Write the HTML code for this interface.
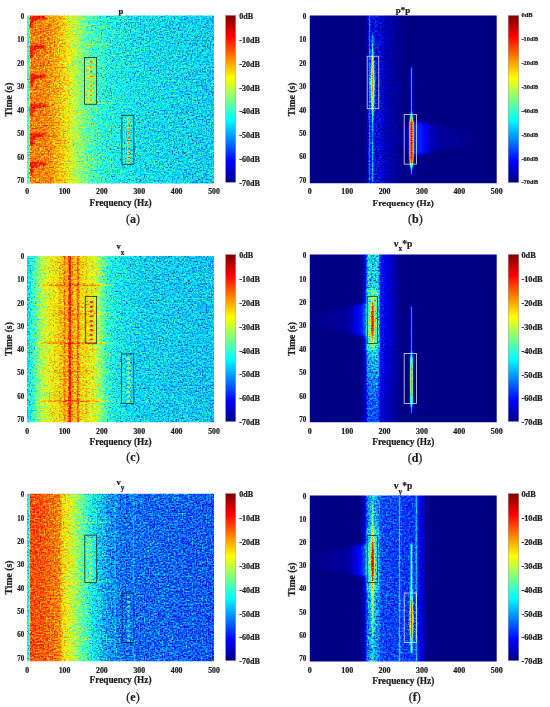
<!DOCTYPE html><html><head><meta charset="utf-8"><title>Spectrograms</title><style>html,body{margin:0;padding:0;background:#fff}svg{display:block}text{font-family:"Liberation Serif","DejaVu Serif",serif;fill:#1c1c1c;stroke:#1c1c1c;stroke-width:0.22px}</style></head><body><svg width="550" height="707" viewBox="0 0 550 707"><rect width="550" height="707" fill="#fff"/><defs><linearGradient id="jetbar" x1="0" y1="0" x2="0" y2="1"><stop offset="0" stop-color="#800000"/><stop offset="0.125" stop-color="#ff0000"/><stop offset="0.375" stop-color="#ffff00"/><stop offset="0.625" stop-color="#00ffff"/><stop offset="0.875" stop-color="#0000ff"/><stop offset="1" stop-color="#000085"/></linearGradient><clipPath id="cpa"><rect x="27.1" y="15.6" width="186.9" height="168.0"/></clipPath><filter id="fa" filterUnits="userSpaceOnUse" x="24.10" y="12.60" width="192.90" height="174.00" color-interpolation-filters="sRGB"><feTurbulence type="fractalNoise" baseFrequency="0.79 0.67" numOctaves="3" seed="2" result="n"/><feColorMatrix in="n" type="matrix" values="1 0 0 0 0  1 0 0 0 0  1 0 0 0 0  0 0 0 0 1" result="n1"/><feConvolveMatrix in="n1" order="3 1" kernelMatrix="0.0295 0.9410 0.0295" divisor="1" edgeMode="duplicate" result="n1x"/><feConvolveMatrix in="n1x" order="1 3" kernelMatrix="0.0295 0.9410 0.0295" divisor="1" edgeMode="duplicate" result="n1"/><feComponentTransfer in="n1" result="n1"><feFuncR type="gamma" exponent="0.9"/><feFuncG type="gamma" exponent="0.9"/><feFuncB type="gamma" exponent="0.9"/></feComponentTransfer><feComposite in="SourceGraphic" in2="n1" operator="arithmetic" k1="-0.3200" k2="1.1715" k3="0.8" k4="-0.4287" result="c"/><feComponentTransfer in="c" result="j"><feFuncR type="table" tableValues="0 0 0 0 0.5 1 1 1 0.5"/><feFuncG type="table" tableValues="0 0 0.5 1 1 1 0.5 0 0"/><feFuncB type="table" tableValues="0.52 1 1 1 0.5 0 0 0 0"/></feComponentTransfer><feConvolveMatrix in="j" order="5 1" kernelMatrix="0.0000 0.0526 0.8948 0.0526 0.0000" divisor="1" edgeMode="duplicate" result="ox"/><feConvolveMatrix in="ox" order="1 5" kernelMatrix="0.0000 0.0526 0.8948 0.0526 0.0000" divisor="1" edgeMode="duplicate" result="o"/></filter><linearGradient id="ga" gradientUnits="userSpaceOnUse" x1="24.10" y1="0" x2="217.00" y2="0"><stop offset="-0.0038" stop-color="#6a6a6a"/><stop offset="0.0262" stop-color="#6a6a6a"/><stop offset="0.0291" stop-color="#bfbfbf"/><stop offset="0.1028" stop-color="#bfbfbf"/><stop offset="0.1318" stop-color="#bcbcbc"/><stop offset="0.1803" stop-color="#b1b1b1"/><stop offset="0.2093" stop-color="#a8a8a8"/><stop offset="0.2384" stop-color="#9b9b9b"/><stop offset="0.2772" stop-color="#8a8a8a"/><stop offset="0.3159" stop-color="#7c7c7c"/><stop offset="0.3644" stop-color="#6f6f6f"/><stop offset="0.4419" stop-color="#646464"/><stop offset="0.5969" stop-color="#5c5c5c"/><stop offset="1.0038" stop-color="#555555"/></linearGradient><filter id="bla" filterUnits="userSpaceOnUse" x="24.10" y="12.60" width="192.90" height="174.00"><feConvolveMatrix in="SourceGraphic" order="7 1" kernelMatrix="0.0017 0.0375 0.2391 0.4433 0.2391 0.0375 0.0017" divisor="1" edgeMode="duplicate" result="ox"/><feConvolveMatrix in="ox" order="1 7" kernelMatrix="0.0004 0.0219 0.2283 0.4987 0.2283 0.0219 0.0004" divisor="1" edgeMode="duplicate" result="o"/></filter><clipPath id="cpc"><rect x="27.1" y="255.9" width="186.9" height="166.4"/></clipPath><filter id="fc" filterUnits="userSpaceOnUse" x="24.10" y="252.90" width="192.90" height="172.40" color-interpolation-filters="sRGB"><feTurbulence type="fractalNoise" baseFrequency="0.79 0.67" numOctaves="3" seed="7" result="n"/><feColorMatrix in="n" type="matrix" values="1 0 0 0 0  1 0 0 0 0  1 0 0 0 0  0 0 0 0 1" result="n1"/><feConvolveMatrix in="n1" order="3 1" kernelMatrix="0.0295 0.9410 0.0295" divisor="1" edgeMode="duplicate" result="n1x"/><feConvolveMatrix in="n1x" order="1 3" kernelMatrix="0.0295 0.9410 0.0295" divisor="1" edgeMode="duplicate" result="n1"/><feComponentTransfer in="n1" result="n1"><feFuncR type="gamma" exponent="0.9"/><feFuncG type="gamma" exponent="0.9"/><feFuncB type="gamma" exponent="0.9"/></feComponentTransfer><feComposite in="SourceGraphic" in2="n1" operator="arithmetic" k1="-0.3200" k2="1.1715" k3="0.8" k4="-0.4287" result="c"/><feComponentTransfer in="c" result="j"><feFuncR type="table" tableValues="0 0 0 0 0.5 1 1 1 0.5"/><feFuncG type="table" tableValues="0 0 0.5 1 1 1 0.5 0 0"/><feFuncB type="table" tableValues="0.52 1 1 1 0.5 0 0 0 0"/></feComponentTransfer><feConvolveMatrix in="j" order="5 1" kernelMatrix="0.0000 0.0526 0.8948 0.0526 0.0000" divisor="1" edgeMode="duplicate" result="ox"/><feConvolveMatrix in="ox" order="1 5" kernelMatrix="0.0000 0.0526 0.8948 0.0526 0.0000" divisor="1" edgeMode="duplicate" result="o"/></filter><linearGradient id="gc" gradientUnits="userSpaceOnUse" x1="24.10" y1="0" x2="217.00" y2="0"><stop offset="-0.0038" stop-color="#4c4c4c"/><stop offset="0.0156" stop-color="#4c4c4c"/><stop offset="0.0214" stop-color="#5d5d5d"/><stop offset="0.0446" stop-color="#6a6a6a"/><stop offset="0.0640" stop-color="#787878"/><stop offset="0.0834" stop-color="#898989"/><stop offset="0.1318" stop-color="#9d9d9d"/><stop offset="0.1803" stop-color="#a8a8a8"/><stop offset="0.2093" stop-color="#adadad"/><stop offset="0.2578" stop-color="#afafaf"/><stop offset="0.2965" stop-color="#a8a8a8"/><stop offset="0.3256" stop-color="#9e9e9e"/><stop offset="0.3682" stop-color="#979797"/><stop offset="0.3954" stop-color="#838383"/><stop offset="0.4302" stop-color="#6b6b6b"/><stop offset="0.4806" stop-color="#5f5f5f"/><stop offset="0.5969" stop-color="#575757"/><stop offset="1.0038" stop-color="#525252"/></linearGradient><filter id="blc" filterUnits="userSpaceOnUse" x="24.10" y="252.90" width="192.90" height="172.40"><feConvolveMatrix in="SourceGraphic" order="5 1" kernelMatrix="0.0003 0.1065 0.7866 0.1065 0.0003" divisor="1" edgeMode="duplicate" result="o"/></filter><linearGradient id="hsc" gradientUnits="userSpaceOnUse" x1="32.71" y1="0" x2="116.81" y2="0"><stop offset="0.0000" stop-color="#fff" stop-opacity="0"/><stop offset="0.1111" stop-color="#fff" stop-opacity="1"/><stop offset="0.8222" stop-color="#fff" stop-opacity="1"/><stop offset="1.0000" stop-color="#fff" stop-opacity="0"/></linearGradient><clipPath id="cpe"><rect x="27.1" y="493.8" width="186.9" height="167.4"/></clipPath><filter id="fe" filterUnits="userSpaceOnUse" x="24.10" y="490.80" width="192.90" height="173.40" color-interpolation-filters="sRGB"><feTurbulence type="fractalNoise" baseFrequency="0.79 0.67" numOctaves="3" seed="11" result="n"/><feColorMatrix in="n" type="matrix" values="1 0 0 0 0  1 0 0 0 0  1 0 0 0 0  0 0 0 0 1" result="n1"/><feConvolveMatrix in="n1" order="3 1" kernelMatrix="0.0295 0.9410 0.0295" divisor="1" edgeMode="duplicate" result="n1x"/><feConvolveMatrix in="n1x" order="1 3" kernelMatrix="0.0295 0.9410 0.0295" divisor="1" edgeMode="duplicate" result="n1"/><feComponentTransfer in="n1" result="n1"><feFuncR type="gamma" exponent="0.9"/><feFuncG type="gamma" exponent="0.9"/><feFuncB type="gamma" exponent="0.9"/></feComponentTransfer><feComposite in="SourceGraphic" in2="n1" operator="arithmetic" k1="-0.3200" k2="1.1715" k3="0.8" k4="-0.4287" result="c"/><feComponentTransfer in="c" result="j"><feFuncR type="table" tableValues="0 0 0 0 0.5 1 1 1 0.5"/><feFuncG type="table" tableValues="0 0 0.5 1 1 1 0.5 0 0"/><feFuncB type="table" tableValues="0.52 1 1 1 0.5 0 0 0 0"/></feComponentTransfer><feConvolveMatrix in="j" order="5 1" kernelMatrix="0.0000 0.0526 0.8948 0.0526 0.0000" divisor="1" edgeMode="duplicate" result="ox"/><feConvolveMatrix in="ox" order="1 5" kernelMatrix="0.0000 0.0526 0.8948 0.0526 0.0000" divisor="1" edgeMode="duplicate" result="o"/></filter><linearGradient id="ge" gradientUnits="userSpaceOnUse" x1="24.10" y1="0" x2="217.00" y2="0"><stop offset="-0.0038" stop-color="#5f5f5f"/><stop offset="0.0272" stop-color="#5f5f5f"/><stop offset="0.0301" stop-color="#cecece"/><stop offset="0.0931" stop-color="#cacaca"/><stop offset="0.1512" stop-color="#c3c3c3"/><stop offset="0.1880" stop-color="#bcbcbc"/><stop offset="0.1958" stop-color="#a9a9a9"/><stop offset="0.2287" stop-color="#9d9d9d"/><stop offset="0.2675" stop-color="#8a8a8a"/><stop offset="0.3062" stop-color="#767676"/><stop offset="0.3547" stop-color="#616161"/><stop offset="0.4031" stop-color="#505050"/><stop offset="0.4516" stop-color="#434343"/><stop offset="0.5194" stop-color="#3c3c3c"/><stop offset="1.0038" stop-color="#353535"/></linearGradient><clipPath id="cpb"><rect x="309.8" y="15.5" width="186.9" height="167.7"/></clipPath><filter id="fb" filterUnits="userSpaceOnUse" x="306.80" y="12.50" width="192.90" height="173.70" color-interpolation-filters="sRGB"><feTurbulence type="fractalNoise" baseFrequency="0.73 0.61" numOctaves="2" seed="5" result="n"/><feColorMatrix in="n" type="matrix" values="1 0 0 0 0  1 0 0 0 0  1 0 0 0 0  0 0 0 0 1" result="n1"/><feConvolveMatrix in="n1" order="3 1" kernelMatrix="0.0295 0.9410 0.0295" divisor="1" edgeMode="duplicate" result="n1x"/><feConvolveMatrix in="n1x" order="1 3" kernelMatrix="0.0295 0.9410 0.0295" divisor="1" edgeMode="duplicate" result="n1"/><feColorMatrix in="SourceGraphic" type="matrix" values="1 0 0 0 0  1 0 0 0 0  1 0 0 0 0  0 0 0 0 1" result="hz"/><feComponentTransfer in="n1" result="n2"><feFuncR type="linear" slope="4.0" intercept="-1.5"/><feFuncG type="linear" slope="4.0" intercept="-1.5"/><feFuncB type="linear" slope="4.0" intercept="-1.5"/></feComponentTransfer><feComposite in="hz" in2="n2" operator="arithmetic" k1="2" k2="0" k3="0" k4="0" result="hzn"/><feColorMatrix in="SourceGraphic" type="matrix" values="0 1 0 0 0  0 1 0 0 0  0 1 0 0 0  0 0 0 0 1" result="ln"/><feComposite in="ln" in2="n1" operator="arithmetic" k1="0.3" k2="0.85" k3="0" k4="0" result="lnn"/><feComposite in="hzn" in2="lnn" operator="arithmetic" k1="0" k2="1" k3="1" k4="0" result="c"/><feComponentTransfer in="c" result="j"><feFuncR type="table" tableValues="0 0 0 0 0.5 1 1 1 0.5"/><feFuncG type="table" tableValues="0 0 0.5 1 1 1 0.5 0 0"/><feFuncB type="table" tableValues="0.52 1 1 1 0.5 0 0 0 0"/></feComponentTransfer><feConvolveMatrix in="j" order="5 1" kernelMatrix="0.0000 0.0526 0.8948 0.0526 0.0000" divisor="1" edgeMode="duplicate" result="ox"/><feConvolveMatrix in="ox" order="1 5" kernelMatrix="0.0000 0.0526 0.8948 0.0526 0.0000" divisor="1" edgeMode="duplicate" result="o"/></filter><filter id="blb" filterUnits="userSpaceOnUse" x="306.80" y="12.50" width="192.90" height="173.70"><feConvolveMatrix in="SourceGraphic" order="5 1" kernelMatrix="0.0096 0.2054 0.5699 0.2054 0.0096" divisor="1" edgeMode="duplicate" result="ox"/><feConvolveMatrix in="ox" order="1 7" kernelMatrix="0.0044 0.0540 0.2420 0.3991 0.2420 0.0540 0.0044" divisor="1" edgeMode="duplicate" result="o"/></filter><filter id="btb" filterUnits="userSpaceOnUse" x="306.80" y="12.50" width="192.90" height="173.70"><feConvolveMatrix in="SourceGraphic" order="5 1" kernelMatrix="0.0003 0.1065 0.7866 0.1065 0.0003" divisor="1" edgeMode="duplicate" result="ox"/><feConvolveMatrix in="ox" order="1 7" kernelMatrix="0.0044 0.0540 0.2420 0.3991 0.2420 0.0540 0.0044" divisor="1" edgeMode="duplicate" result="o"/></filter><filter id="bwb" filterUnits="userSpaceOnUse" x="306.80" y="12.50" width="192.90" height="173.70"><feGaussianBlur stdDeviation="3 1.2"/></filter><linearGradient id="hzb" gradientUnits="userSpaceOnUse" x1="365.87" y1="0" x2="407.74" y2="0"><stop offset="0.0000" stop-color="#f00" stop-opacity="0"/><stop offset="0.0536" stop-color="#f00" stop-opacity="0.9"/><stop offset="0.3125" stop-color="#f00" stop-opacity="1"/><stop offset="0.4911" stop-color="#f00" stop-opacity="0.5"/><stop offset="0.9375" stop-color="#f00" stop-opacity="0.0"/></linearGradient><linearGradient id="glb" gradientUnits="userSpaceOnUse" x1="411.47" y1="0" x2="474.27" y2="0"><stop offset="0.0000" stop-color="#0f0" stop-opacity="1.0"/><stop offset="0.1200" stop-color="#0f0" stop-opacity="0.62"/><stop offset="0.4000" stop-color="#0f0" stop-opacity="0.25"/><stop offset="1.0000" stop-color="#0f0" stop-opacity="0.04"/></linearGradient><linearGradient id="gmb" gradientUnits="userSpaceOnUse" x1="390.17" y1="0" x2="411.47" y2="0"><stop offset="0.0000" stop-color="#0f0" stop-opacity="0.04"/><stop offset="0.6000" stop-color="#0f0" stop-opacity="0.25"/><stop offset="0.8800" stop-color="#0f0" stop-opacity="0.62"/><stop offset="1.0000" stop-color="#0f0" stop-opacity="1.0"/></linearGradient><clipPath id="cpd"><rect x="309.8" y="254.5" width="186.9" height="167.8"/></clipPath><filter id="fd" filterUnits="userSpaceOnUse" x="306.80" y="251.50" width="192.90" height="173.80" color-interpolation-filters="sRGB"><feTurbulence type="fractalNoise" baseFrequency="0.73 0.61" numOctaves="2" seed="9" result="n"/><feColorMatrix in="n" type="matrix" values="1 0 0 0 0  1 0 0 0 0  1 0 0 0 0  0 0 0 0 1" result="n1"/><feConvolveMatrix in="n1" order="3 1" kernelMatrix="0.0295 0.9410 0.0295" divisor="1" edgeMode="duplicate" result="n1x"/><feConvolveMatrix in="n1x" order="1 3" kernelMatrix="0.0295 0.9410 0.0295" divisor="1" edgeMode="duplicate" result="n1"/><feColorMatrix in="SourceGraphic" type="matrix" values="1 0 0 0 0  1 0 0 0 0  1 0 0 0 0  0 0 0 0 1" result="hz"/><feComponentTransfer in="n1" result="n2"><feFuncR type="linear" slope="1.3" intercept="-0.15000000000000002"/><feFuncG type="linear" slope="1.3" intercept="-0.15000000000000002"/><feFuncB type="linear" slope="1.3" intercept="-0.15000000000000002"/></feComponentTransfer><feComposite in="hz" in2="n2" operator="arithmetic" k1="2" k2="0" k3="0" k4="0" result="hzn"/><feColorMatrix in="SourceGraphic" type="matrix" values="0 1 0 0 0  0 1 0 0 0  0 1 0 0 0  0 0 0 0 1" result="ln"/><feComposite in="ln" in2="n1" operator="arithmetic" k1="0.3" k2="0.85" k3="0" k4="0" result="lnn"/><feComposite in="hzn" in2="lnn" operator="arithmetic" k1="0" k2="1" k3="1" k4="0" result="c"/><feComponentTransfer in="c" result="j"><feFuncR type="table" tableValues="0 0 0 0 0.5 1 1 1 0.5"/><feFuncG type="table" tableValues="0 0 0.5 1 1 1 0.5 0 0"/><feFuncB type="table" tableValues="0.52 1 1 1 0.5 0 0 0 0"/></feComponentTransfer><feConvolveMatrix in="j" order="5 1" kernelMatrix="0.0000 0.0526 0.8948 0.0526 0.0000" divisor="1" edgeMode="duplicate" result="ox"/><feConvolveMatrix in="ox" order="1 5" kernelMatrix="0.0000 0.0526 0.8948 0.0526 0.0000" divisor="1" edgeMode="duplicate" result="o"/></filter><filter id="bld" filterUnits="userSpaceOnUse" x="306.80" y="251.50" width="192.90" height="173.80"><feConvolveMatrix in="SourceGraphic" order="5 1" kernelMatrix="0.0096 0.2054 0.5699 0.2054 0.0096" divisor="1" edgeMode="duplicate" result="ox"/><feConvolveMatrix in="ox" order="1 7" kernelMatrix="0.0044 0.0540 0.2420 0.3991 0.2420 0.0540 0.0044" divisor="1" edgeMode="duplicate" result="o"/></filter><filter id="btd" filterUnits="userSpaceOnUse" x="306.80" y="251.50" width="192.90" height="173.80"><feConvolveMatrix in="SourceGraphic" order="5 1" kernelMatrix="0.0003 0.1065 0.7866 0.1065 0.0003" divisor="1" edgeMode="duplicate" result="ox"/><feConvolveMatrix in="ox" order="1 7" kernelMatrix="0.0044 0.0540 0.2420 0.3991 0.2420 0.0540 0.0044" divisor="1" edgeMode="duplicate" result="o"/></filter><filter id="bwd" filterUnits="userSpaceOnUse" x="306.80" y="251.50" width="192.90" height="173.80"><feGaussianBlur stdDeviation="3 1.2"/></filter><linearGradient id="hzd" gradientUnits="userSpaceOnUse" x1="361.38" y1="0" x2="401.38" y2="0"><stop offset="0.0000" stop-color="#f00" stop-opacity="0"/><stop offset="0.1028" stop-color="#f00" stop-opacity="0.3"/><stop offset="0.1589" stop-color="#f00" stop-opacity="0.95"/><stop offset="0.4206" stop-color="#f00" stop-opacity="1"/><stop offset="0.4673" stop-color="#f00" stop-opacity="0.4"/><stop offset="0.7196" stop-color="#f00" stop-opacity="0.22"/><stop offset="1.0000" stop-color="#f00" stop-opacity="0.0"/></linearGradient><linearGradient id="fdd" gradientUnits="userSpaceOnUse" x1="0" y1="343.49" x2="0" y2="430.15"><stop offset="0.0000" stop-color="#000" stop-opacity="0"/><stop offset="0.5946" stop-color="#000" stop-opacity="0.35"/><stop offset="1.0000" stop-color="#000" stop-opacity="0.45"/></linearGradient><linearGradient id="gld" gradientUnits="userSpaceOnUse" x1="309.80" y1="0" x2="370.36" y2="0"><stop offset="0.0000" stop-color="#0f0" stop-opacity="0.04"/><stop offset="0.6000" stop-color="#0f0" stop-opacity="0.25"/><stop offset="0.8800" stop-color="#0f0" stop-opacity="0.62"/><stop offset="1.0000" stop-color="#0f0" stop-opacity="1.0"/></linearGradient><clipPath id="cpf"><rect x="309.8" y="495.4" width="186.9" height="166.2"/></clipPath><filter id="ff" filterUnits="userSpaceOnUse" x="306.80" y="492.40" width="192.90" height="172.20" color-interpolation-filters="sRGB"><feTurbulence type="fractalNoise" baseFrequency="0.73 0.61" numOctaves="2" seed="13" result="n"/><feColorMatrix in="n" type="matrix" values="1 0 0 0 0  1 0 0 0 0  1 0 0 0 0  0 0 0 0 1" result="n1"/><feConvolveMatrix in="n1" order="3 1" kernelMatrix="0.0295 0.9410 0.0295" divisor="1" edgeMode="duplicate" result="n1x"/><feConvolveMatrix in="n1x" order="1 3" kernelMatrix="0.0295 0.9410 0.0295" divisor="1" edgeMode="duplicate" result="n1"/><feColorMatrix in="SourceGraphic" type="matrix" values="1 0 0 0 0  1 0 0 0 0  1 0 0 0 0  0 0 0 0 1" result="hz"/><feComponentTransfer in="n1" result="n2"><feFuncR type="linear" slope="1.4" intercept="-0.19999999999999996"/><feFuncG type="linear" slope="1.4" intercept="-0.19999999999999996"/><feFuncB type="linear" slope="1.4" intercept="-0.19999999999999996"/></feComponentTransfer><feComposite in="hz" in2="n2" operator="arithmetic" k1="2" k2="0" k3="0" k4="0" result="hzn"/><feColorMatrix in="SourceGraphic" type="matrix" values="0 1 0 0 0  0 1 0 0 0  0 1 0 0 0  0 0 0 0 1" result="ln"/><feComposite in="ln" in2="n1" operator="arithmetic" k1="0.3" k2="0.85" k3="0" k4="0" result="lnn"/><feComposite in="hzn" in2="lnn" operator="arithmetic" k1="0" k2="1" k3="1" k4="0" result="c"/><feComponentTransfer in="c" result="j"><feFuncR type="table" tableValues="0 0 0 0 0.5 1 1 1 0.5"/><feFuncG type="table" tableValues="0 0 0.5 1 1 1 0.5 0 0"/><feFuncB type="table" tableValues="0.52 1 1 1 0.5 0 0 0 0"/></feComponentTransfer><feConvolveMatrix in="j" order="5 1" kernelMatrix="0.0000 0.0526 0.8948 0.0526 0.0000" divisor="1" edgeMode="duplicate" result="ox"/><feConvolveMatrix in="ox" order="1 5" kernelMatrix="0.0000 0.0526 0.8948 0.0526 0.0000" divisor="1" edgeMode="duplicate" result="o"/></filter><filter id="blf" filterUnits="userSpaceOnUse" x="306.80" y="492.40" width="192.90" height="172.20"><feConvolveMatrix in="SourceGraphic" order="5 1" kernelMatrix="0.0096 0.2054 0.5699 0.2054 0.0096" divisor="1" edgeMode="duplicate" result="ox"/><feConvolveMatrix in="ox" order="1 7" kernelMatrix="0.0044 0.0540 0.2420 0.3991 0.2420 0.0540 0.0044" divisor="1" edgeMode="duplicate" result="o"/></filter><filter id="btf" filterUnits="userSpaceOnUse" x="306.80" y="492.40" width="192.90" height="172.20"><feConvolveMatrix in="SourceGraphic" order="5 1" kernelMatrix="0.0003 0.1065 0.7866 0.1065 0.0003" divisor="1" edgeMode="duplicate" result="ox"/><feConvolveMatrix in="ox" order="1 7" kernelMatrix="0.0044 0.0540 0.2420 0.3991 0.2420 0.0540 0.0044" divisor="1" edgeMode="duplicate" result="o"/></filter><filter id="bwf" filterUnits="userSpaceOnUse" x="306.80" y="492.40" width="192.90" height="172.20"><feGaussianBlur stdDeviation="3 1.2"/></filter><linearGradient id="hzf" gradientUnits="userSpaceOnUse" x1="360.64" y1="0" x2="427.55" y2="0"><stop offset="0.0000" stop-color="#f00" stop-opacity="0"/><stop offset="0.0670" stop-color="#f00" stop-opacity="0.3"/><stop offset="0.1006" stop-color="#f00" stop-opacity="0.85"/><stop offset="0.1620" stop-color="#f00" stop-opacity="1"/><stop offset="0.2570" stop-color="#f00" stop-opacity="0.95"/><stop offset="0.3017" stop-color="#f00" stop-opacity="0.68"/><stop offset="0.8156" stop-color="#f00" stop-opacity="0.58"/><stop offset="0.8994" stop-color="#f00" stop-opacity="0.33"/><stop offset="1.0000" stop-color="#f00" stop-opacity="0.0"/></linearGradient><linearGradient id="glf" gradientUnits="userSpaceOnUse" x1="309.80" y1="0" x2="370.36" y2="0"><stop offset="0.0000" stop-color="#0f0" stop-opacity="0.04"/><stop offset="0.6000" stop-color="#0f0" stop-opacity="0.25"/><stop offset="0.8800" stop-color="#0f0" stop-opacity="0.62"/><stop offset="1.0000" stop-color="#0f0" stop-opacity="1.0"/></linearGradient></defs><text x="24.10" y="18.95" font-size="7.8" text-anchor="end" font-weight="bold" textLength="3.47" lengthAdjust="spacingAndGlyphs">0</text><text x="24.10" y="42.40" font-size="7.8" text-anchor="end" font-weight="bold" textLength="6.94" lengthAdjust="spacingAndGlyphs">10</text><text x="24.10" y="65.85" font-size="7.8" text-anchor="end" font-weight="bold" textLength="6.94" lengthAdjust="spacingAndGlyphs">20</text><text x="24.10" y="89.29" font-size="7.8" text-anchor="end" font-weight="bold" textLength="6.94" lengthAdjust="spacingAndGlyphs">30</text><text x="24.10" y="112.74" font-size="7.8" text-anchor="end" font-weight="bold" textLength="6.94" lengthAdjust="spacingAndGlyphs">40</text><text x="24.10" y="136.19" font-size="7.8" text-anchor="end" font-weight="bold" textLength="6.94" lengthAdjust="spacingAndGlyphs">50</text><text x="24.10" y="159.64" font-size="7.8" text-anchor="end" font-weight="bold" textLength="6.94" lengthAdjust="spacingAndGlyphs">60</text><text x="24.10" y="183.08" font-size="7.8" text-anchor="end" font-weight="bold" textLength="6.94" lengthAdjust="spacingAndGlyphs">70</text><text x="27.10" y="194.25" font-size="7.8" text-anchor="middle" font-weight="bold" >0</text><text x="64.48" y="194.25" font-size="7.8" text-anchor="middle" font-weight="bold" >100</text><text x="101.86" y="194.25" font-size="7.8" text-anchor="middle" font-weight="bold" >200</text><text x="139.24" y="194.25" font-size="7.8" text-anchor="middle" font-weight="bold" >300</text><text x="176.62" y="194.25" font-size="7.8" text-anchor="middle" font-weight="bold" >400</text><text x="214.00" y="194.25" font-size="7.8" text-anchor="middle" font-weight="bold" >500</text><text x="120.55" y="205.79" font-size="9.3" text-anchor="middle" font-weight="bold" >Frequency (Hz)</text><text transform="translate(9.30,99.60) rotate(-90)" font-size="9.67" text-anchor="middle" font-weight="bold" dy="2.79">Time (s)</text><text x="120.90" y="13.70" font-size="8.8" text-anchor="middle" font-weight="bold" >p</text><rect x="225.60" y="15.40" width="10.10" height="166.90" fill="url(#jetbar)" stroke="#888" stroke-width="0.4"/><text x="239.20" y="19.05" font-size="8.1" text-anchor="start" font-weight="bold" >0dB</text><text x="239.20" y="42.90" font-size="8.1" text-anchor="start" font-weight="bold" >-10dB</text><text x="239.20" y="66.74" font-size="8.1" text-anchor="start" font-weight="bold" >-20dB</text><text x="239.20" y="90.58" font-size="8.1" text-anchor="start" font-weight="bold" >-30dB</text><text x="239.20" y="114.43" font-size="8.1" text-anchor="start" font-weight="bold" >-40dB</text><text x="239.20" y="138.27" font-size="8.1" text-anchor="start" font-weight="bold" >-50dB</text><text x="239.20" y="162.11" font-size="8.1" text-anchor="start" font-weight="bold" >-60dB</text><text x="239.20" y="185.95" font-size="8.1" text-anchor="start" font-weight="bold" >-70dB</text><text x="133.00" y="222.50" font-size="12" text-anchor="middle" font-weight="normal" stroke-width="0.1">(<tspan font-weight="bold">a</tspan>)</text><text x="24.10" y="259.25" font-size="7.8" text-anchor="end" font-weight="bold" textLength="3.47" lengthAdjust="spacingAndGlyphs">0</text><text x="24.10" y="282.48" font-size="7.8" text-anchor="end" font-weight="bold" textLength="6.94" lengthAdjust="spacingAndGlyphs">10</text><text x="24.10" y="305.70" font-size="7.8" text-anchor="end" font-weight="bold" textLength="6.94" lengthAdjust="spacingAndGlyphs">20</text><text x="24.10" y="328.92" font-size="7.8" text-anchor="end" font-weight="bold" textLength="6.94" lengthAdjust="spacingAndGlyphs">30</text><text x="24.10" y="352.15" font-size="7.8" text-anchor="end" font-weight="bold" textLength="6.94" lengthAdjust="spacingAndGlyphs">40</text><text x="24.10" y="375.37" font-size="7.8" text-anchor="end" font-weight="bold" textLength="6.94" lengthAdjust="spacingAndGlyphs">50</text><text x="24.10" y="398.60" font-size="7.8" text-anchor="end" font-weight="bold" textLength="6.94" lengthAdjust="spacingAndGlyphs">60</text><text x="24.10" y="421.82" font-size="7.8" text-anchor="end" font-weight="bold" textLength="6.94" lengthAdjust="spacingAndGlyphs">70</text><text x="27.10" y="433.65" font-size="7.8" text-anchor="middle" font-weight="bold" >0</text><text x="64.48" y="433.65" font-size="7.8" text-anchor="middle" font-weight="bold" >100</text><text x="101.86" y="433.65" font-size="7.8" text-anchor="middle" font-weight="bold" >200</text><text x="139.24" y="433.65" font-size="7.8" text-anchor="middle" font-weight="bold" >300</text><text x="176.62" y="433.65" font-size="7.8" text-anchor="middle" font-weight="bold" >400</text><text x="214.00" y="433.65" font-size="7.8" text-anchor="middle" font-weight="bold" >500</text><text x="120.55" y="444.89" font-size="9.3" text-anchor="middle" font-weight="bold" >Frequency (Hz)</text><text transform="translate(9.30,339.10) rotate(-90)" font-size="9.67" text-anchor="middle" font-weight="bold" dy="2.79">Time (s)</text><text x="120.50" y="249.10" font-size="8.6" text-anchor="middle" font-weight="bold">v<tspan dy="5.4" font-size="7.2">x</tspan></text><rect x="225.60" y="254.60" width="10.10" height="166.90" fill="url(#jetbar)" stroke="#888" stroke-width="0.4"/><text x="239.20" y="258.25" font-size="8.1" text-anchor="start" font-weight="bold" >0dB</text><text x="239.20" y="282.10" font-size="8.1" text-anchor="start" font-weight="bold" >-10dB</text><text x="239.20" y="305.94" font-size="8.1" text-anchor="start" font-weight="bold" >-20dB</text><text x="239.20" y="329.78" font-size="8.1" text-anchor="start" font-weight="bold" >-30dB</text><text x="239.20" y="353.63" font-size="8.1" text-anchor="start" font-weight="bold" >-40dB</text><text x="239.20" y="377.47" font-size="8.1" text-anchor="start" font-weight="bold" >-50dB</text><text x="239.20" y="401.31" font-size="8.1" text-anchor="start" font-weight="bold" >-60dB</text><text x="239.20" y="425.15" font-size="8.1" text-anchor="start" font-weight="bold" >-70dB</text><text x="133.00" y="461.40" font-size="12" text-anchor="middle" font-weight="normal" stroke-width="0.1">(<tspan font-weight="bold">c</tspan>)</text><text x="24.10" y="497.15" font-size="7.8" text-anchor="end" font-weight="bold" textLength="3.47" lengthAdjust="spacingAndGlyphs">0</text><text x="24.10" y="520.52" font-size="7.8" text-anchor="end" font-weight="bold" textLength="6.94" lengthAdjust="spacingAndGlyphs">10</text><text x="24.10" y="543.88" font-size="7.8" text-anchor="end" font-weight="bold" textLength="6.94" lengthAdjust="spacingAndGlyphs">20</text><text x="24.10" y="567.24" font-size="7.8" text-anchor="end" font-weight="bold" textLength="6.94" lengthAdjust="spacingAndGlyphs">30</text><text x="24.10" y="590.61" font-size="7.8" text-anchor="end" font-weight="bold" textLength="6.94" lengthAdjust="spacingAndGlyphs">40</text><text x="24.10" y="613.97" font-size="7.8" text-anchor="end" font-weight="bold" textLength="6.94" lengthAdjust="spacingAndGlyphs">50</text><text x="24.10" y="637.33" font-size="7.8" text-anchor="end" font-weight="bold" textLength="6.94" lengthAdjust="spacingAndGlyphs">60</text><text x="24.10" y="660.70" font-size="7.8" text-anchor="end" font-weight="bold" textLength="6.94" lengthAdjust="spacingAndGlyphs">70</text><text x="27.10" y="672.75" font-size="7.8" text-anchor="middle" font-weight="bold" >0</text><text x="64.48" y="672.75" font-size="7.8" text-anchor="middle" font-weight="bold" >100</text><text x="101.86" y="672.75" font-size="7.8" text-anchor="middle" font-weight="bold" >200</text><text x="139.24" y="672.75" font-size="7.8" text-anchor="middle" font-weight="bold" >300</text><text x="176.62" y="672.75" font-size="7.8" text-anchor="middle" font-weight="bold" >400</text><text x="214.00" y="672.75" font-size="7.8" text-anchor="middle" font-weight="bold" >500</text><text x="120.55" y="683.49" font-size="9.3" text-anchor="middle" font-weight="bold" >Frequency (Hz)</text><text transform="translate(9.30,577.50) rotate(-90)" font-size="9.67" text-anchor="middle" font-weight="bold" dy="2.79">Time (s)</text><text x="120.50" y="484.90" font-size="8.6" text-anchor="middle" font-weight="bold">v<tspan dy="5.1" font-size="7.2">y</tspan></text><rect x="225.60" y="493.60" width="10.10" height="167.00" fill="url(#jetbar)" stroke="#888" stroke-width="0.4"/><text x="239.20" y="497.25" font-size="8.1" text-anchor="start" font-weight="bold" >0dB</text><text x="239.20" y="521.11" font-size="8.1" text-anchor="start" font-weight="bold" >-10dB</text><text x="239.20" y="544.97" font-size="8.1" text-anchor="start" font-weight="bold" >-20dB</text><text x="239.20" y="568.83" font-size="8.1" text-anchor="start" font-weight="bold" >-30dB</text><text x="239.20" y="592.68" font-size="8.1" text-anchor="start" font-weight="bold" >-40dB</text><text x="239.20" y="616.54" font-size="8.1" text-anchor="start" font-weight="bold" >-50dB</text><text x="239.20" y="640.40" font-size="8.1" text-anchor="start" font-weight="bold" >-60dB</text><text x="239.20" y="664.25" font-size="8.1" text-anchor="start" font-weight="bold" >-70dB</text><text x="133.00" y="700.60" font-size="12" text-anchor="middle" font-weight="normal" stroke-width="0.1">(<tspan font-weight="bold">e</tspan>)</text><text x="306.30" y="18.89" font-size="7.9" text-anchor="end" font-weight="bold" textLength="3.52" lengthAdjust="spacingAndGlyphs">0</text><text x="306.30" y="42.29" font-size="7.9" text-anchor="end" font-weight="bold" textLength="7.03" lengthAdjust="spacingAndGlyphs">10</text><text x="306.30" y="65.70" font-size="7.9" text-anchor="end" font-weight="bold" textLength="7.03" lengthAdjust="spacingAndGlyphs">20</text><text x="306.30" y="89.10" font-size="7.9" text-anchor="end" font-weight="bold" textLength="7.03" lengthAdjust="spacingAndGlyphs">30</text><text x="306.30" y="112.51" font-size="7.9" text-anchor="end" font-weight="bold" textLength="7.03" lengthAdjust="spacingAndGlyphs">40</text><text x="306.30" y="135.91" font-size="7.9" text-anchor="end" font-weight="bold" textLength="7.03" lengthAdjust="spacingAndGlyphs">50</text><text x="306.30" y="159.32" font-size="7.9" text-anchor="end" font-weight="bold" textLength="7.03" lengthAdjust="spacingAndGlyphs">60</text><text x="306.30" y="182.72" font-size="7.9" text-anchor="end" font-weight="bold" textLength="7.03" lengthAdjust="spacingAndGlyphs">70</text><text x="309.80" y="194.49" font-size="7.9" text-anchor="middle" font-weight="bold" >0</text><text x="347.18" y="194.49" font-size="7.9" text-anchor="middle" font-weight="bold" >100</text><text x="384.56" y="194.49" font-size="7.9" text-anchor="middle" font-weight="bold" >200</text><text x="421.94" y="194.49" font-size="7.9" text-anchor="middle" font-weight="bold" >300</text><text x="459.32" y="194.49" font-size="7.9" text-anchor="middle" font-weight="bold" >400</text><text x="496.70" y="194.49" font-size="7.9" text-anchor="middle" font-weight="bold" >500</text><text x="403.25" y="206.36" font-size="9.2" text-anchor="middle" font-weight="bold" >Frequency (Hz)</text><text transform="translate(292.20,99.35) rotate(-90)" font-size="9.57" text-anchor="middle" font-weight="bold" dy="2.76">Time (s)</text><text x="402.90" y="13.30" font-size="9.0" text-anchor="middle" font-weight="bold" >p*p</text><rect x="508.20" y="15.50" width="10.60" height="167.00" fill="url(#jetbar)" stroke="#888" stroke-width="0.4"/><text x="521.40" y="17.41" font-size="6.5" text-anchor="start" font-weight="bold" >0dB</text><text x="521.40" y="41.27" font-size="6.5" text-anchor="start" font-weight="bold" >-10dB</text><text x="521.40" y="65.12" font-size="6.5" text-anchor="start" font-weight="bold" >-20dB</text><text x="521.40" y="88.98" font-size="6.5" text-anchor="start" font-weight="bold" >-30dB</text><text x="521.40" y="112.84" font-size="6.5" text-anchor="start" font-weight="bold" >-40dB</text><text x="521.40" y="136.70" font-size="6.5" text-anchor="start" font-weight="bold" >-50dB</text><text x="521.40" y="160.55" font-size="6.5" text-anchor="start" font-weight="bold" >-60dB</text><text x="521.40" y="184.41" font-size="6.5" text-anchor="start" font-weight="bold" >-70dB</text><text x="415.30" y="222.50" font-size="12" text-anchor="middle" font-weight="normal" stroke-width="0.1">(<tspan font-weight="bold">b</tspan>)</text><text x="306.30" y="258.12" font-size="8.0" text-anchor="end" font-weight="bold" textLength="3.56" lengthAdjust="spacingAndGlyphs">0</text><text x="306.30" y="281.54" font-size="8.0" text-anchor="end" font-weight="bold" textLength="7.12" lengthAdjust="spacingAndGlyphs">10</text><text x="306.30" y="304.96" font-size="8.0" text-anchor="end" font-weight="bold" textLength="7.12" lengthAdjust="spacingAndGlyphs">20</text><text x="306.30" y="328.38" font-size="8.0" text-anchor="end" font-weight="bold" textLength="7.12" lengthAdjust="spacingAndGlyphs">30</text><text x="306.30" y="351.80" font-size="8.0" text-anchor="end" font-weight="bold" textLength="7.12" lengthAdjust="spacingAndGlyphs">40</text><text x="306.30" y="375.22" font-size="8.0" text-anchor="end" font-weight="bold" textLength="7.12" lengthAdjust="spacingAndGlyphs">50</text><text x="306.30" y="398.64" font-size="8.0" text-anchor="end" font-weight="bold" textLength="7.12" lengthAdjust="spacingAndGlyphs">60</text><text x="306.30" y="422.06" font-size="8.0" text-anchor="end" font-weight="bold" textLength="7.12" lengthAdjust="spacingAndGlyphs">70</text><text x="309.80" y="433.72" font-size="8.0" text-anchor="middle" font-weight="bold" >0</text><text x="347.18" y="433.72" font-size="8.0" text-anchor="middle" font-weight="bold" >100</text><text x="384.56" y="433.72" font-size="8.0" text-anchor="middle" font-weight="bold" >200</text><text x="421.94" y="433.72" font-size="8.0" text-anchor="middle" font-weight="bold" >300</text><text x="459.32" y="433.72" font-size="8.0" text-anchor="middle" font-weight="bold" >400</text><text x="496.70" y="433.72" font-size="8.0" text-anchor="middle" font-weight="bold" >500</text><text x="403.25" y="445.39" font-size="9.3" text-anchor="middle" font-weight="bold" >Frequency (Hz)</text><text transform="translate(292.20,339.10) rotate(-90)" font-size="9.67" text-anchor="middle" font-weight="bold" dy="2.79">Time (s)</text><text x="402.90" y="246.50" font-size="9.5" text-anchor="middle" font-weight="bold">v<tspan dy="4.8" font-size="7.5">x</tspan><tspan dy="-4.8">*p</tspan></text><rect x="508.20" y="254.50" width="10.60" height="167.00" fill="url(#jetbar)" stroke="#888" stroke-width="0.4"/><text x="521.40" y="258.22" font-size="8.3" text-anchor="start" font-weight="bold" >0dB</text><text x="521.40" y="282.08" font-size="8.3" text-anchor="start" font-weight="bold" >-10dB</text><text x="521.40" y="305.94" font-size="8.3" text-anchor="start" font-weight="bold" >-20dB</text><text x="521.40" y="329.79" font-size="8.3" text-anchor="start" font-weight="bold" >-30dB</text><text x="521.40" y="353.65" font-size="8.3" text-anchor="start" font-weight="bold" >-40dB</text><text x="521.40" y="377.51" font-size="8.3" text-anchor="start" font-weight="bold" >-50dB</text><text x="521.40" y="401.36" font-size="8.3" text-anchor="start" font-weight="bold" >-60dB</text><text x="521.40" y="425.22" font-size="8.3" text-anchor="start" font-weight="bold" >-70dB</text><text x="415.00" y="462.20" font-size="12" text-anchor="middle" font-weight="normal" stroke-width="0.1">(<tspan font-weight="bold">d</tspan>)</text><text x="306.30" y="498.62" font-size="8.0" text-anchor="end" font-weight="bold" textLength="3.56" lengthAdjust="spacingAndGlyphs">0</text><text x="306.30" y="521.82" font-size="8.0" text-anchor="end" font-weight="bold" textLength="7.12" lengthAdjust="spacingAndGlyphs">10</text><text x="306.30" y="545.01" font-size="8.0" text-anchor="end" font-weight="bold" textLength="7.12" lengthAdjust="spacingAndGlyphs">20</text><text x="306.30" y="568.21" font-size="8.0" text-anchor="end" font-weight="bold" textLength="7.12" lengthAdjust="spacingAndGlyphs">30</text><text x="306.30" y="591.40" font-size="8.0" text-anchor="end" font-weight="bold" textLength="7.12" lengthAdjust="spacingAndGlyphs">40</text><text x="306.30" y="614.60" font-size="8.0" text-anchor="end" font-weight="bold" textLength="7.12" lengthAdjust="spacingAndGlyphs">50</text><text x="306.30" y="637.80" font-size="8.0" text-anchor="end" font-weight="bold" textLength="7.12" lengthAdjust="spacingAndGlyphs">60</text><text x="306.30" y="660.99" font-size="8.0" text-anchor="end" font-weight="bold" textLength="7.12" lengthAdjust="spacingAndGlyphs">70</text><text x="309.80" y="672.72" font-size="8.0" text-anchor="middle" font-weight="bold" >0</text><text x="347.18" y="672.72" font-size="8.0" text-anchor="middle" font-weight="bold" >100</text><text x="384.56" y="672.72" font-size="8.0" text-anchor="middle" font-weight="bold" >200</text><text x="421.94" y="672.72" font-size="8.0" text-anchor="middle" font-weight="bold" >300</text><text x="459.32" y="672.72" font-size="8.0" text-anchor="middle" font-weight="bold" >400</text><text x="496.70" y="672.72" font-size="8.0" text-anchor="middle" font-weight="bold" >500</text><text x="403.25" y="683.99" font-size="9.3" text-anchor="middle" font-weight="bold" >Frequency (Hz)</text><text transform="translate(292.20,579.50) rotate(-90)" font-size="9.67" text-anchor="middle" font-weight="bold" dy="2.79">Time (s)</text><text x="402.90" y="489.30" font-size="9.5" text-anchor="middle" font-weight="bold">v<tspan dy="4.6" font-size="7.5">y</tspan><tspan dy="-4.6">*p</tspan></text><rect x="508.20" y="493.60" width="10.60" height="167.00" fill="url(#jetbar)" stroke="#888" stroke-width="0.4"/><text x="521.40" y="497.32" font-size="8.3" text-anchor="start" font-weight="bold" >0dB</text><text x="521.40" y="521.18" font-size="8.3" text-anchor="start" font-weight="bold" >-10dB</text><text x="521.40" y="545.04" font-size="8.3" text-anchor="start" font-weight="bold" >-20dB</text><text x="521.40" y="568.89" font-size="8.3" text-anchor="start" font-weight="bold" >-30dB</text><text x="521.40" y="592.75" font-size="8.3" text-anchor="start" font-weight="bold" >-40dB</text><text x="521.40" y="616.61" font-size="8.3" text-anchor="start" font-weight="bold" >-50dB</text><text x="521.40" y="640.46" font-size="8.3" text-anchor="start" font-weight="bold" >-60dB</text><text x="521.40" y="664.32" font-size="8.3" text-anchor="start" font-weight="bold" >-70dB</text><text x="414.80" y="700.90" font-size="12" text-anchor="middle" font-weight="normal" stroke-width="0.1">(<tspan font-weight="bold">f</tspan>)</text><g clip-path="url(#cpa)"><g filter="url(#fa)"><rect x="24.10" y="12.60" width="192.90" height="174.00" fill="url(#ga)"/><path d="M29.7,15.6 L42.1,15.6 L46.5,16.8 L45.0,19.0 Q35.3,18.6 33.5,22.6 L32.7,28.6 L29.7,28.6 Z" fill="#fff" fill-opacity="0.46" filter="url(#bla)"/><path d="M29.7,45.1 L42.1,45.1 L46.5,46.3 L45.0,48.5 Q35.3,48.1 33.5,52.1 L32.7,58.1 L29.7,58.1 Z" fill="#fff" fill-opacity="0.46" filter="url(#bla)"/><path d="M29.7,74.5 L42.1,74.5 L46.5,75.7 L45.0,77.9 Q35.3,77.5 33.5,81.5 L32.7,87.5 L29.7,87.5 Z" fill="#fff" fill-opacity="0.46" filter="url(#bla)"/><path d="M29.7,103.8 L42.1,103.8 L46.5,105.0 L45.0,107.2 Q35.3,106.8 33.5,110.8 L32.7,116.8 L29.7,116.8 Z" fill="#fff" fill-opacity="0.46" filter="url(#bla)"/><path d="M29.7,133.1 L42.1,133.1 L46.5,134.3 L45.0,136.5 Q35.3,136.1 33.5,140.1 L32.7,146.1 L29.7,146.1 Z" fill="#fff" fill-opacity="0.46" filter="url(#bla)"/><path d="M29.7,162.1 L42.1,162.1 L46.5,163.3 L45.0,165.5 Q35.3,165.1 33.5,169.1 L32.7,175.1 L29.7,175.1 Z" fill="#fff" fill-opacity="0.46" filter="url(#bla)"/><rect x="85.0" y="43.9" width="28.0" height="1" fill="#fff" fill-opacity="0.16"/><rect x="85.0" y="102.8" width="28.0" height="1" fill="#fff" fill-opacity="0.16"/><rect x="85.0" y="161.4" width="28.0" height="1" fill="#fff" fill-opacity="0.16"/><rect x="85.4" y="59.0" width="10.5" height="44.5" fill="#fff" fill-opacity="0.06"/><rect x="85.0" y="61.6" width="10.8" height="1.1" fill="#fff" fill-opacity="0.15"/><rect x="89.7" y="61.1" width="2.7" height="2.1" fill="#fff" fill-opacity="0.48"/><rect x="85.0" y="66.4" width="10.8" height="1.1" fill="#fff" fill-opacity="0.15"/><rect x="89.7" y="65.9" width="2.7" height="2.1" fill="#fff" fill-opacity="0.48"/><rect x="85.0" y="71.2" width="10.8" height="1.1" fill="#fff" fill-opacity="0.15"/><rect x="89.7" y="70.7" width="2.7" height="2.1" fill="#fff" fill-opacity="0.48"/><rect x="85.0" y="76.0" width="10.8" height="1.1" fill="#fff" fill-opacity="0.15"/><rect x="89.7" y="75.5" width="2.7" height="2.1" fill="#fff" fill-opacity="0.48"/><rect x="85.0" y="80.7" width="10.8" height="1.1" fill="#fff" fill-opacity="0.15"/><rect x="89.7" y="80.2" width="2.7" height="2.1" fill="#fff" fill-opacity="0.48"/><rect x="85.0" y="85.5" width="10.8" height="1.1" fill="#fff" fill-opacity="0.15"/><rect x="89.7" y="85.0" width="2.7" height="2.1" fill="#fff" fill-opacity="0.48"/><rect x="85.0" y="90.3" width="10.8" height="1.1" fill="#fff" fill-opacity="0.15"/><rect x="89.7" y="89.8" width="2.7" height="2.1" fill="#fff" fill-opacity="0.48"/><rect x="85.0" y="95.0" width="10.8" height="1.1" fill="#fff" fill-opacity="0.15"/><rect x="89.7" y="94.5" width="2.7" height="2.1" fill="#fff" fill-opacity="0.48"/><rect x="85.0" y="99.8" width="10.8" height="1.1" fill="#fff" fill-opacity="0.15"/><rect x="89.7" y="99.3" width="2.7" height="2.1" fill="#fff" fill-opacity="0.48"/><rect x="122.8" y="118.5" width="10.5" height="1" fill="#fff" fill-opacity="0.06"/><rect x="127.3" y="117.8" width="2.7" height="2.4" fill="#fff" fill-opacity="0.62"/><rect x="122.8" y="123.3" width="10.5" height="1" fill="#fff" fill-opacity="0.06"/><rect x="127.3" y="122.6" width="2.7" height="2.4" fill="#fff" fill-opacity="0.62"/><rect x="122.8" y="128.1" width="10.5" height="1" fill="#fff" fill-opacity="0.06"/><rect x="127.3" y="127.4" width="2.7" height="2.4" fill="#fff" fill-opacity="0.62"/><rect x="122.8" y="132.9" width="10.5" height="1" fill="#fff" fill-opacity="0.06"/><rect x="127.3" y="132.2" width="2.7" height="2.4" fill="#fff" fill-opacity="0.62"/><rect x="122.8" y="137.7" width="10.5" height="1" fill="#fff" fill-opacity="0.06"/><rect x="127.3" y="137.0" width="2.7" height="2.4" fill="#fff" fill-opacity="0.62"/><rect x="122.8" y="142.5" width="10.5" height="1" fill="#fff" fill-opacity="0.06"/><rect x="127.3" y="141.8" width="2.7" height="2.4" fill="#fff" fill-opacity="0.62"/><rect x="122.8" y="147.3" width="10.5" height="1" fill="#fff" fill-opacity="0.06"/><rect x="127.3" y="146.6" width="2.7" height="2.4" fill="#fff" fill-opacity="0.62"/><rect x="122.8" y="152.1" width="10.5" height="1" fill="#fff" fill-opacity="0.06"/><rect x="127.3" y="151.4" width="2.7" height="2.4" fill="#fff" fill-opacity="0.62"/><rect x="122.8" y="157.0" width="10.5" height="1" fill="#fff" fill-opacity="0.06"/><rect x="127.3" y="156.3" width="2.7" height="2.4" fill="#fff" fill-opacity="0.62"/><rect x="122.8" y="161.8" width="10.5" height="1" fill="#fff" fill-opacity="0.06"/><rect x="127.3" y="161.1" width="2.7" height="2.4" fill="#fff" fill-opacity="0.62"/></g></g><rect x="84.48" y="57.57" width="12.15" height="46.66" fill="none" stroke="#111" stroke-width="0.8" stroke-opacity="0.9"/><rect x="121.86" y="115.25" width="11.96" height="49.00" fill="none" stroke="#111" stroke-width="0.8" stroke-opacity="0.9"/><g clip-path="url(#cpc)"><g filter="url(#fc)"><rect x="24.10" y="252.90" width="192.90" height="172.40" fill="url(#gc)"/><rect x="68.5" y="252.9" width="2.5" height="172.4" fill="#fff" fill-opacity="0.62" filter="url(#blc)"/><rect x="71.8" y="252.9" width="1.1" height="172.4" fill="#fff" fill-opacity="0.2" filter="url(#blc)"/><rect x="77.1" y="252.9" width="1.7" height="172.4" fill="#fff" fill-opacity="0.45" filter="url(#blc)"/><rect x="63.7" y="252.9" width="1.6" height="172.4" fill="#fff" fill-opacity="0.3" filter="url(#blc)"/><rect x="85.4" y="252.9" width="1.5" height="172.4" fill="#fff" fill-opacity="0.2" filter="url(#blc)"/><rect x="92.2" y="252.9" width="1.3" height="172.4" fill="#fff" fill-opacity="0.12" filter="url(#blc)"/><rect x="59.7" y="252.9" width="1.3" height="172.4" fill="#fff" fill-opacity="0.12" filter="url(#blc)"/><rect x="32.7" y="284.4" width="84.1" height="1.6" fill="url(#hsc)" fill-opacity="0.3"/><rect x="32.7" y="313.2" width="84.1" height="1.6" fill="url(#hsc)" fill-opacity="0.13"/><rect x="32.7" y="342.4" width="84.1" height="1.6" fill="url(#hsc)" fill-opacity="0.3"/><rect x="32.7" y="371.2" width="84.1" height="1.6" fill="url(#hsc)" fill-opacity="0.13"/><rect x="32.7" y="400.3" width="84.1" height="1.6" fill="url(#hsc)" fill-opacity="0.3"/><rect x="85.8" y="301.6" width="10.5" height="1.1" fill="#fff" fill-opacity="0.16"/><rect x="89.8" y="301.1" width="2.9" height="2.1" fill="#fff" fill-opacity="0.55"/><rect x="85.8" y="306.3" width="10.5" height="1.1" fill="#fff" fill-opacity="0.16"/><rect x="89.8" y="305.8" width="2.9" height="2.1" fill="#fff" fill-opacity="0.55"/><rect x="85.8" y="311.0" width="10.5" height="1.1" fill="#fff" fill-opacity="0.16"/><rect x="89.8" y="310.5" width="2.9" height="2.1" fill="#fff" fill-opacity="0.55"/><rect x="85.8" y="315.7" width="10.5" height="1.1" fill="#fff" fill-opacity="0.16"/><rect x="89.8" y="315.2" width="2.9" height="2.1" fill="#fff" fill-opacity="0.55"/><rect x="85.8" y="320.4" width="10.5" height="1.1" fill="#fff" fill-opacity="0.16"/><rect x="89.8" y="319.9" width="2.9" height="2.1" fill="#fff" fill-opacity="0.55"/><rect x="85.8" y="325.1" width="10.5" height="1.1" fill="#fff" fill-opacity="0.16"/><rect x="89.8" y="324.6" width="2.9" height="2.1" fill="#fff" fill-opacity="0.55"/><rect x="85.8" y="329.8" width="10.5" height="1.1" fill="#fff" fill-opacity="0.16"/><rect x="89.8" y="329.3" width="2.9" height="2.1" fill="#fff" fill-opacity="0.55"/><rect x="85.8" y="334.5" width="10.5" height="1.1" fill="#fff" fill-opacity="0.16"/><rect x="89.8" y="334.0" width="2.9" height="2.1" fill="#fff" fill-opacity="0.55"/><rect x="85.8" y="339.1" width="10.5" height="1.1" fill="#fff" fill-opacity="0.16"/><rect x="89.8" y="338.6" width="2.9" height="2.1" fill="#fff" fill-opacity="0.55"/><rect x="127.5" y="357.5" width="2.4" height="2.2" fill="#fff" fill-opacity="0.4"/><rect x="127.5" y="362.2" width="2.4" height="2.2" fill="#fff" fill-opacity="0.4"/><rect x="127.5" y="367.0" width="2.4" height="2.2" fill="#fff" fill-opacity="0.4"/><rect x="127.5" y="371.7" width="2.4" height="2.2" fill="#fff" fill-opacity="0.4"/><rect x="127.5" y="376.5" width="2.4" height="2.2" fill="#fff" fill-opacity="0.4"/><rect x="127.5" y="381.3" width="2.4" height="2.2" fill="#fff" fill-opacity="0.4"/><rect x="127.5" y="386.0" width="2.4" height="2.2" fill="#fff" fill-opacity="0.4"/><rect x="127.5" y="390.8" width="2.4" height="2.2" fill="#fff" fill-opacity="0.4"/><rect x="127.5" y="395.5" width="2.4" height="2.2" fill="#fff" fill-opacity="0.4"/><rect x="127.5" y="400.3" width="2.4" height="2.2" fill="#fff" fill-opacity="0.4"/></g></g><rect x="85.26" y="296.40" width="11.36" height="46.70" fill="none" stroke="#111" stroke-width="0.8" stroke-opacity="0.9"/><rect x="121.56" y="353.91" width="12.15" height="49.70" fill="none" stroke="#111" stroke-width="0.8" stroke-opacity="0.9"/><g clip-path="url(#cpe)"><g filter="url(#fe)"><rect x="24.10" y="490.80" width="192.90" height="173.40" fill="url(#ge)"/><rect x="83.2" y="522.0" width="29.9" height="1" fill="#fff" fill-opacity="0.16"/><rect x="83.2" y="580.7" width="29.9" height="1" fill="#fff" fill-opacity="0.16"/><rect x="83.2" y="639.1" width="29.9" height="1" fill="#fff" fill-opacity="0.16"/><rect x="114.3" y="490.8" width="1.2" height="173.4" fill="#fff" fill-opacity="0.1"/><rect x="132.7" y="490.8" width="1.2" height="173.4" fill="#fff" fill-opacity="0.1"/><rect x="85.4" y="537.0" width="10.5" height="44.4" fill="#fff" fill-opacity="0.05"/><rect x="89.4" y="539.3" width="2.4" height="2" fill="#fff" fill-opacity="0.3"/><rect x="89.4" y="544.0" width="2.4" height="2" fill="#fff" fill-opacity="0.3"/><rect x="89.4" y="548.8" width="2.4" height="2" fill="#fff" fill-opacity="0.3"/><rect x="89.4" y="553.5" width="2.4" height="2" fill="#fff" fill-opacity="0.3"/><rect x="89.4" y="558.3" width="2.4" height="2" fill="#fff" fill-opacity="0.3"/><rect x="89.4" y="563.0" width="2.4" height="2" fill="#fff" fill-opacity="0.3"/><rect x="89.4" y="567.8" width="2.4" height="2" fill="#fff" fill-opacity="0.3"/><rect x="89.4" y="572.5" width="2.4" height="2" fill="#fff" fill-opacity="0.3"/><rect x="89.4" y="577.2" width="2.4" height="2" fill="#fff" fill-opacity="0.3"/><rect x="127.4" y="596.1" width="2.2" height="2.0" fill="#fff" fill-opacity="0.27"/><rect x="127.4" y="600.9" width="2.2" height="2.0" fill="#fff" fill-opacity="0.27"/><rect x="127.4" y="605.6" width="2.2" height="2.0" fill="#fff" fill-opacity="0.27"/><rect x="127.4" y="610.4" width="2.2" height="2.0" fill="#fff" fill-opacity="0.27"/><rect x="127.4" y="615.2" width="2.2" height="2.0" fill="#fff" fill-opacity="0.27"/><rect x="127.4" y="620.0" width="2.2" height="2.0" fill="#fff" fill-opacity="0.27"/><rect x="127.4" y="624.8" width="2.2" height="2.0" fill="#fff" fill-opacity="0.27"/><rect x="127.4" y="629.6" width="2.2" height="2.0" fill="#fff" fill-opacity="0.27"/><rect x="127.4" y="634.4" width="2.2" height="2.0" fill="#fff" fill-opacity="0.27"/><rect x="127.4" y="639.2" width="2.2" height="2.0" fill="#fff" fill-opacity="0.27"/></g></g><rect x="84.81" y="535.11" width="11.89" height="47.24" fill="none" stroke="#111" stroke-width="0.8" stroke-opacity="0.9"/><rect x="122.08" y="593.03" width="11.63" height="49.51" fill="none" stroke="#111" stroke-width="0.8" stroke-opacity="0.9"/><g clip-path="url(#cpb)"><g filter="url(#fb)"><rect x="306.80" y="12.50" width="192.90" height="173.70" fill="#000"/><rect x="365.9" y="12.5" width="41.9" height="173.7" fill="url(#hzb)" fill-opacity="0.10"/><path d="M411.5,120.8 L474.3,132.5 L474.3,144.2 L411.5,155.9Z" fill="url(#glb)" fill-opacity="0.14" filter="url(#bwb)"/><path d="M411.5,119.1 L427.2,124.3 L427.2,152.4 L411.5,157.7Z" fill="#0f0" fill-opacity="0.084" filter="url(#bwb)"/><path d="M411.5,124.3 L390.2,133.7 L390.2,143.1 L411.5,152.4Z" fill="url(#gmb)" fill-opacity="0.06" filter="url(#bwb)"/><path d="M411.5,122.9 L406.1,127.1 L406.1,149.6 L411.5,153.8Z" fill="#0f0" fill-opacity="0.036" filter="url(#bwb)"/><rect x="369.06" y="15.50" width="1.1" height="166.18" fill="#0f0" fill-opacity="0.28" filter="url(#btb)"/><rect x="372.00" y="34.22" width="1.2" height="147.45" fill="#0f0" fill-opacity="0.34" filter="url(#btb)"/><path d="M372.60,38.91 Q376.80,83.38 372.60,127.85 Q368.40,83.38 372.60,38.91Z" fill="#0f0" fill-opacity="0.24" filter="url(#blb)"/><path d="M372.60,52.95 Q376.60,83.38 372.60,113.80 Q368.60,83.38 372.60,52.95Z" fill="#0f0" fill-opacity="0.34" filter="url(#blb)"/><path d="M372.60,66.99 Q375.00,83.38 372.60,99.76 Q370.20,83.38 372.60,66.99Z" fill="#0f0" fill-opacity="0.36" filter="url(#blb)"/><rect x="410.87" y="66.99" width="1.2" height="107.67" fill="#0f0" fill-opacity="0.42" filter="url(#btb)"/><rect x="409.67" y="111.46" width="3.6" height="58.51" rx="1.8" ry="9.00" fill="#0f0" fill-opacity="0.3" filter="url(#blb)"/><rect x="409.97" y="116.14" width="3.0" height="50.56" rx="1.5" ry="7.50" fill="#0f0" fill-opacity="0.55" filter="url(#blb)"/><rect x="410.27" y="119.65" width="2.4" height="44.47" rx="1.2" ry="6.00" fill="#0f0" fill-opacity="0.7" filter="url(#blb)"/><rect x="362.13" y="15.10" width="108.40" height="0.8" fill="#000" fill-opacity="0.1"/><rect x="362.13" y="17.44" width="108.40" height="0.8" fill="#000" fill-opacity="0.1"/><rect x="362.13" y="19.78" width="108.40" height="0.8" fill="#000" fill-opacity="0.1"/><rect x="362.13" y="22.12" width="108.40" height="0.8" fill="#000" fill-opacity="0.1"/><rect x="362.13" y="24.46" width="108.40" height="0.8" fill="#000" fill-opacity="0.1"/><rect x="362.13" y="26.80" width="108.40" height="0.8" fill="#000" fill-opacity="0.1"/><rect x="362.13" y="29.14" width="108.40" height="0.8" fill="#000" fill-opacity="0.1"/><rect x="362.13" y="31.48" width="108.40" height="0.8" fill="#000" fill-opacity="0.1"/><rect x="362.13" y="33.82" width="108.40" height="0.8" fill="#000" fill-opacity="0.1"/><rect x="362.13" y="36.16" width="108.40" height="0.8" fill="#000" fill-opacity="0.1"/><rect x="362.13" y="38.51" width="108.40" height="0.8" fill="#000" fill-opacity="0.1"/><rect x="362.13" y="40.85" width="108.40" height="0.8" fill="#000" fill-opacity="0.1"/><rect x="362.13" y="43.19" width="108.40" height="0.8" fill="#000" fill-opacity="0.1"/><rect x="362.13" y="45.53" width="108.40" height="0.8" fill="#000" fill-opacity="0.1"/><rect x="362.13" y="47.87" width="108.40" height="0.8" fill="#000" fill-opacity="0.1"/><rect x="362.13" y="50.21" width="108.40" height="0.8" fill="#000" fill-opacity="0.1"/><rect x="362.13" y="52.55" width="108.40" height="0.8" fill="#000" fill-opacity="0.1"/><rect x="362.13" y="54.89" width="108.40" height="0.8" fill="#000" fill-opacity="0.1"/><rect x="362.13" y="57.23" width="108.40" height="0.8" fill="#000" fill-opacity="0.1"/><rect x="362.13" y="59.57" width="108.40" height="0.8" fill="#000" fill-opacity="0.1"/><rect x="362.13" y="61.91" width="108.40" height="0.8" fill="#000" fill-opacity="0.1"/><rect x="362.13" y="64.25" width="108.40" height="0.8" fill="#000" fill-opacity="0.1"/><rect x="362.13" y="66.59" width="108.40" height="0.8" fill="#000" fill-opacity="0.1"/><rect x="362.13" y="68.93" width="108.40" height="0.8" fill="#000" fill-opacity="0.1"/><rect x="362.13" y="71.27" width="108.40" height="0.8" fill="#000" fill-opacity="0.1"/><rect x="362.13" y="73.61" width="108.40" height="0.8" fill="#000" fill-opacity="0.1"/><rect x="362.13" y="75.95" width="108.40" height="0.8" fill="#000" fill-opacity="0.1"/><rect x="362.13" y="78.29" width="108.40" height="0.8" fill="#000" fill-opacity="0.1"/><rect x="362.13" y="80.64" width="108.40" height="0.8" fill="#000" fill-opacity="0.1"/><rect x="362.13" y="82.98" width="108.40" height="0.8" fill="#000" fill-opacity="0.1"/><rect x="362.13" y="85.32" width="108.40" height="0.8" fill="#000" fill-opacity="0.1"/><rect x="362.13" y="87.66" width="108.40" height="0.8" fill="#000" fill-opacity="0.1"/><rect x="362.13" y="90.00" width="108.40" height="0.8" fill="#000" fill-opacity="0.1"/><rect x="362.13" y="92.34" width="108.40" height="0.8" fill="#000" fill-opacity="0.1"/><rect x="362.13" y="94.68" width="108.40" height="0.8" fill="#000" fill-opacity="0.1"/><rect x="362.13" y="97.02" width="108.40" height="0.8" fill="#000" fill-opacity="0.1"/><rect x="362.13" y="99.36" width="108.40" height="0.8" fill="#000" fill-opacity="0.1"/><rect x="362.13" y="101.70" width="108.40" height="0.8" fill="#000" fill-opacity="0.1"/><rect x="362.13" y="104.04" width="108.40" height="0.8" fill="#000" fill-opacity="0.1"/><rect x="362.13" y="106.38" width="108.40" height="0.8" fill="#000" fill-opacity="0.1"/><rect x="362.13" y="108.72" width="108.40" height="0.8" fill="#000" fill-opacity="0.1"/><rect x="362.13" y="111.06" width="108.40" height="0.8" fill="#000" fill-opacity="0.1"/><rect x="362.13" y="113.40" width="108.40" height="0.8" fill="#000" fill-opacity="0.1"/><rect x="362.13" y="115.74" width="108.40" height="0.8" fill="#000" fill-opacity="0.1"/><rect x="362.13" y="118.08" width="108.40" height="0.8" fill="#000" fill-opacity="0.1"/><rect x="362.13" y="120.42" width="108.40" height="0.8" fill="#000" fill-opacity="0.1"/><rect x="362.13" y="122.77" width="108.40" height="0.8" fill="#000" fill-opacity="0.1"/><rect x="362.13" y="125.11" width="108.40" height="0.8" fill="#000" fill-opacity="0.1"/><rect x="362.13" y="127.45" width="108.40" height="0.8" fill="#000" fill-opacity="0.1"/><rect x="362.13" y="129.79" width="108.40" height="0.8" fill="#000" fill-opacity="0.1"/><rect x="362.13" y="132.13" width="108.40" height="0.8" fill="#000" fill-opacity="0.1"/><rect x="362.13" y="134.47" width="108.40" height="0.8" fill="#000" fill-opacity="0.1"/><rect x="362.13" y="136.81" width="108.40" height="0.8" fill="#000" fill-opacity="0.1"/><rect x="362.13" y="139.15" width="108.40" height="0.8" fill="#000" fill-opacity="0.1"/><rect x="362.13" y="141.49" width="108.40" height="0.8" fill="#000" fill-opacity="0.1"/><rect x="362.13" y="143.83" width="108.40" height="0.8" fill="#000" fill-opacity="0.1"/><rect x="362.13" y="146.17" width="108.40" height="0.8" fill="#000" fill-opacity="0.1"/><rect x="362.13" y="148.51" width="108.40" height="0.8" fill="#000" fill-opacity="0.1"/><rect x="362.13" y="150.85" width="108.40" height="0.8" fill="#000" fill-opacity="0.1"/><rect x="362.13" y="153.19" width="108.40" height="0.8" fill="#000" fill-opacity="0.1"/><rect x="362.13" y="155.53" width="108.40" height="0.8" fill="#000" fill-opacity="0.1"/><rect x="362.13" y="157.87" width="108.40" height="0.8" fill="#000" fill-opacity="0.1"/><rect x="362.13" y="160.21" width="108.40" height="0.8" fill="#000" fill-opacity="0.1"/><rect x="362.13" y="162.55" width="108.40" height="0.8" fill="#000" fill-opacity="0.1"/><rect x="362.13" y="164.89" width="108.40" height="0.8" fill="#000" fill-opacity="0.1"/><rect x="362.13" y="167.24" width="108.40" height="0.8" fill="#000" fill-opacity="0.1"/><rect x="362.13" y="169.58" width="108.40" height="0.8" fill="#000" fill-opacity="0.1"/><rect x="362.13" y="171.92" width="108.40" height="0.8" fill="#000" fill-opacity="0.1"/><rect x="362.13" y="174.26" width="108.40" height="0.8" fill="#000" fill-opacity="0.1"/><rect x="362.13" y="176.60" width="108.40" height="0.8" fill="#000" fill-opacity="0.1"/><rect x="362.13" y="178.94" width="108.40" height="0.8" fill="#000" fill-opacity="0.1"/></g></g><rect x="367.18" y="56.23" width="11.59" height="52.43" fill="none" stroke="#f4f4f4" stroke-width="0.8" stroke-opacity="0.9"/><rect x="404.18" y="114.51" width="12.34" height="49.62" fill="none" stroke="#f4f4f4" stroke-width="0.8" stroke-opacity="0.9"/><g clip-path="url(#cpd)"><g filter="url(#fd)"><rect x="306.80" y="251.50" width="192.90" height="173.80" fill="#000"/><rect x="361.4" y="251.5" width="40.0" height="173.8" fill="url(#hzd)" fill-opacity="0.37"/><rect x="364.4" y="343.5" width="39.2" height="86.7" fill="url(#fdd)"/><path d="M370.4,302.5 L309.8,314.2 L309.8,325.9 L370.4,337.6Z" fill="url(#gld)" fill-opacity="0.13" filter="url(#bwd)"/><path d="M370.4,300.8 L355.2,306.0 L355.2,334.1 L370.4,339.4Z" fill="#0f0" fill-opacity="0.078" filter="url(#bwd)"/><rect x="366.2" y="289.6" width="13.1" height="60.9" fill="#0f0" fill-opacity="0.13" filter="url(#bld)"/><path d="M372.60,284.95 Q375.60,320.07 372.60,355.20 Q369.60,320.07 372.60,284.95Z" fill="#0f0" fill-opacity="0.25" filter="url(#bld)"/><path d="M372.60,294.31 Q375.60,320.66 372.60,347.01 Q369.60,320.66 372.60,294.31Z" fill="#0f0" fill-opacity="0.45" filter="url(#bld)"/><path d="M372.60,297.83 Q375.00,320.66 372.60,343.49 Q370.20,320.66 372.60,297.83Z" fill="#0f0" fill-opacity="0.75" filter="url(#bld)"/><rect x="410.92" y="306.02" width="1.1" height="107.73" fill="#0f0" fill-opacity="0.38" filter="url(#btd)"/><rect x="410.17" y="350.52" width="2.6" height="58.55" rx="1.3" ry="6.50" fill="#0f0" fill-opacity="0.28" filter="url(#bld)"/><rect x="410.37" y="356.37" width="2.2" height="48.01" rx="1.1" ry="5.50" fill="#0f0" fill-opacity="0.45" filter="url(#bld)"/><path d="M411.47,359.89 Q413.47,380.96 411.47,402.04 Q409.47,380.96 411.47,359.89Z" fill="#0f0" fill-opacity="0.45" filter="url(#bld)"/><rect x="321.01" y="254.10" width="100.93" height="0.8" fill="#000" fill-opacity="0.1"/><rect x="321.01" y="256.44" width="100.93" height="0.8" fill="#000" fill-opacity="0.1"/><rect x="321.01" y="258.78" width="100.93" height="0.8" fill="#000" fill-opacity="0.1"/><rect x="321.01" y="261.13" width="100.93" height="0.8" fill="#000" fill-opacity="0.1"/><rect x="321.01" y="263.47" width="100.93" height="0.8" fill="#000" fill-opacity="0.1"/><rect x="321.01" y="265.81" width="100.93" height="0.8" fill="#000" fill-opacity="0.1"/><rect x="321.01" y="268.15" width="100.93" height="0.8" fill="#000" fill-opacity="0.1"/><rect x="321.01" y="270.49" width="100.93" height="0.8" fill="#000" fill-opacity="0.1"/><rect x="321.01" y="272.84" width="100.93" height="0.8" fill="#000" fill-opacity="0.1"/><rect x="321.01" y="275.18" width="100.93" height="0.8" fill="#000" fill-opacity="0.1"/><rect x="321.01" y="277.52" width="100.93" height="0.8" fill="#000" fill-opacity="0.1"/><rect x="321.01" y="279.86" width="100.93" height="0.8" fill="#000" fill-opacity="0.1"/><rect x="321.01" y="282.20" width="100.93" height="0.8" fill="#000" fill-opacity="0.1"/><rect x="321.01" y="284.55" width="100.93" height="0.8" fill="#000" fill-opacity="0.1"/><rect x="321.01" y="286.89" width="100.93" height="0.8" fill="#000" fill-opacity="0.1"/><rect x="321.01" y="289.23" width="100.93" height="0.8" fill="#000" fill-opacity="0.1"/><rect x="321.01" y="291.57" width="100.93" height="0.8" fill="#000" fill-opacity="0.1"/><rect x="321.01" y="293.91" width="100.93" height="0.8" fill="#000" fill-opacity="0.1"/><rect x="321.01" y="296.25" width="100.93" height="0.8" fill="#000" fill-opacity="0.1"/><rect x="321.01" y="298.60" width="100.93" height="0.8" fill="#000" fill-opacity="0.1"/><rect x="321.01" y="300.94" width="100.93" height="0.8" fill="#000" fill-opacity="0.1"/><rect x="321.01" y="303.28" width="100.93" height="0.8" fill="#000" fill-opacity="0.1"/><rect x="321.01" y="305.62" width="100.93" height="0.8" fill="#000" fill-opacity="0.1"/><rect x="321.01" y="307.96" width="100.93" height="0.8" fill="#000" fill-opacity="0.1"/><rect x="321.01" y="310.31" width="100.93" height="0.8" fill="#000" fill-opacity="0.1"/><rect x="321.01" y="312.65" width="100.93" height="0.8" fill="#000" fill-opacity="0.1"/><rect x="321.01" y="314.99" width="100.93" height="0.8" fill="#000" fill-opacity="0.1"/><rect x="321.01" y="317.33" width="100.93" height="0.8" fill="#000" fill-opacity="0.1"/><rect x="321.01" y="319.67" width="100.93" height="0.8" fill="#000" fill-opacity="0.1"/><rect x="321.01" y="322.02" width="100.93" height="0.8" fill="#000" fill-opacity="0.1"/><rect x="321.01" y="324.36" width="100.93" height="0.8" fill="#000" fill-opacity="0.1"/><rect x="321.01" y="326.70" width="100.93" height="0.8" fill="#000" fill-opacity="0.1"/><rect x="321.01" y="329.04" width="100.93" height="0.8" fill="#000" fill-opacity="0.1"/><rect x="321.01" y="331.38" width="100.93" height="0.8" fill="#000" fill-opacity="0.1"/><rect x="321.01" y="333.73" width="100.93" height="0.8" fill="#000" fill-opacity="0.1"/><rect x="321.01" y="336.07" width="100.93" height="0.8" fill="#000" fill-opacity="0.1"/><rect x="321.01" y="338.41" width="100.93" height="0.8" fill="#000" fill-opacity="0.1"/><rect x="321.01" y="340.75" width="100.93" height="0.8" fill="#000" fill-opacity="0.1"/><rect x="321.01" y="343.09" width="100.93" height="0.8" fill="#000" fill-opacity="0.1"/><rect x="321.01" y="345.44" width="100.93" height="0.8" fill="#000" fill-opacity="0.1"/><rect x="321.01" y="347.78" width="100.93" height="0.8" fill="#000" fill-opacity="0.1"/><rect x="321.01" y="350.12" width="100.93" height="0.8" fill="#000" fill-opacity="0.1"/><rect x="321.01" y="352.46" width="100.93" height="0.8" fill="#000" fill-opacity="0.1"/><rect x="321.01" y="354.80" width="100.93" height="0.8" fill="#000" fill-opacity="0.1"/><rect x="321.01" y="357.15" width="100.93" height="0.8" fill="#000" fill-opacity="0.1"/><rect x="321.01" y="359.49" width="100.93" height="0.8" fill="#000" fill-opacity="0.1"/><rect x="321.01" y="361.83" width="100.93" height="0.8" fill="#000" fill-opacity="0.1"/><rect x="321.01" y="364.17" width="100.93" height="0.8" fill="#000" fill-opacity="0.1"/><rect x="321.01" y="366.51" width="100.93" height="0.8" fill="#000" fill-opacity="0.1"/><rect x="321.01" y="368.86" width="100.93" height="0.8" fill="#000" fill-opacity="0.1"/><rect x="321.01" y="371.20" width="100.93" height="0.8" fill="#000" fill-opacity="0.1"/><rect x="321.01" y="373.54" width="100.93" height="0.8" fill="#000" fill-opacity="0.1"/><rect x="321.01" y="375.88" width="100.93" height="0.8" fill="#000" fill-opacity="0.1"/><rect x="321.01" y="378.22" width="100.93" height="0.8" fill="#000" fill-opacity="0.1"/><rect x="321.01" y="380.56" width="100.93" height="0.8" fill="#000" fill-opacity="0.1"/><rect x="321.01" y="382.91" width="100.93" height="0.8" fill="#000" fill-opacity="0.1"/><rect x="321.01" y="385.25" width="100.93" height="0.8" fill="#000" fill-opacity="0.1"/><rect x="321.01" y="387.59" width="100.93" height="0.8" fill="#000" fill-opacity="0.1"/><rect x="321.01" y="389.93" width="100.93" height="0.8" fill="#000" fill-opacity="0.1"/><rect x="321.01" y="392.27" width="100.93" height="0.8" fill="#000" fill-opacity="0.1"/><rect x="321.01" y="394.62" width="100.93" height="0.8" fill="#000" fill-opacity="0.1"/><rect x="321.01" y="396.96" width="100.93" height="0.8" fill="#000" fill-opacity="0.1"/><rect x="321.01" y="399.30" width="100.93" height="0.8" fill="#000" fill-opacity="0.1"/><rect x="321.01" y="401.64" width="100.93" height="0.8" fill="#000" fill-opacity="0.1"/><rect x="321.01" y="403.98" width="100.93" height="0.8" fill="#000" fill-opacity="0.1"/><rect x="321.01" y="406.33" width="100.93" height="0.8" fill="#000" fill-opacity="0.1"/><rect x="321.01" y="408.67" width="100.93" height="0.8" fill="#000" fill-opacity="0.1"/><rect x="321.01" y="411.01" width="100.93" height="0.8" fill="#000" fill-opacity="0.1"/><rect x="321.01" y="413.35" width="100.93" height="0.8" fill="#000" fill-opacity="0.1"/><rect x="321.01" y="415.69" width="100.93" height="0.8" fill="#000" fill-opacity="0.1"/><rect x="321.01" y="418.04" width="100.93" height="0.8" fill="#000" fill-opacity="0.1"/></g></g><rect x="367.29" y="296.30" width="10.20" height="47.10" fill="none" stroke="#111" stroke-width="0.8" stroke-opacity="0.9"/><rect x="404.18" y="353.56" width="12.34" height="50.02" fill="none" stroke="#f4f4f4" stroke-width="0.8" stroke-opacity="0.9"/><g clip-path="url(#cpf)"><g filter="url(#ff)"><rect x="306.80" y="492.40" width="192.90" height="172.20" fill="#000"/><rect x="360.6" y="492.4" width="66.9" height="172.2" fill="url(#hzf)" fill-opacity="0.30"/><path d="M370.4,543.0 L309.8,554.6 L309.8,566.1 L370.4,577.7Z" fill="url(#glf)" fill-opacity="0.13" filter="url(#bwf)"/><path d="M370.4,541.2 L355.2,546.4 L355.2,574.3 L370.4,579.5Z" fill="#0f0" fill-opacity="0.078" filter="url(#bwf)"/><rect x="366.2" y="527.9" width="13.1" height="64.9" fill="#0f0" fill-opacity="0.12" filter="url(#blf)"/><rect x="399.01" y="495.40" width="1.0" height="166.08" fill="#0f0" fill-opacity="0.3" filter="url(#btf)"/><rect x="415.83" y="495.40" width="1.0" height="166.08" fill="#0f0" fill-opacity="0.34" filter="url(#btf)"/><rect x="372.00" y="495.40" width="1.2" height="166.08" fill="#0f0" fill-opacity="0.22" filter="url(#blf)"/><path d="M372.60,500.04 Q375.20,569.63 372.60,639.22 Q370.00,569.63 372.60,500.04Z" fill="#0f0" fill-opacity="0.4" filter="url(#blf)"/><path d="M372.60,525.55 Q375.60,561.51 372.60,597.46 Q369.60,561.51 372.60,525.55Z" fill="#0f0" fill-opacity="0.3" filter="url(#blf)"/><path d="M372.60,534.83 Q375.40,560.35 372.60,585.86 Q369.80,560.35 372.60,534.83Z" fill="#0f0" fill-opacity="0.5" filter="url(#blf)"/><path d="M372.60,540.63 Q374.80,561.51 372.60,582.39 Q370.40,561.51 372.60,540.63Z" fill="#0f0" fill-opacity="0.65" filter="url(#blf)"/><rect x="410.82" y="544.11" width="1.3" height="109.02" fill="#0f0" fill-opacity="0.6" filter="url(#btf)"/><path d="M411.47,574.27 Q414.27,613.70 411.47,653.13 Q408.67,613.70 411.47,574.27Z" fill="#0f0" fill-opacity="0.25" filter="url(#blf)"/><path d="M411.47,592.82 Q414.27,619.50 411.47,646.17 Q408.67,619.50 411.47,592.82Z" fill="#0f0" fill-opacity="0.45" filter="url(#blf)"/><path d="M411.47,599.78 Q413.67,620.66 411.47,641.54 Q409.27,620.66 411.47,599.78Z" fill="#0f0" fill-opacity="0.45" filter="url(#blf)"/><rect x="328.49" y="495.00" width="93.45" height="0.8" fill="#000" fill-opacity="0.1"/><rect x="328.49" y="497.32" width="93.45" height="0.8" fill="#000" fill-opacity="0.1"/><rect x="328.49" y="499.64" width="93.45" height="0.8" fill="#000" fill-opacity="0.1"/><rect x="328.49" y="501.96" width="93.45" height="0.8" fill="#000" fill-opacity="0.1"/><rect x="328.49" y="504.28" width="93.45" height="0.8" fill="#000" fill-opacity="0.1"/><rect x="328.49" y="506.60" width="93.45" height="0.8" fill="#000" fill-opacity="0.1"/><rect x="328.49" y="508.92" width="93.45" height="0.8" fill="#000" fill-opacity="0.1"/><rect x="328.49" y="511.24" width="93.45" height="0.8" fill="#000" fill-opacity="0.1"/><rect x="328.49" y="513.56" width="93.45" height="0.8" fill="#000" fill-opacity="0.1"/><rect x="328.49" y="515.88" width="93.45" height="0.8" fill="#000" fill-opacity="0.1"/><rect x="328.49" y="518.20" width="93.45" height="0.8" fill="#000" fill-opacity="0.1"/><rect x="328.49" y="520.52" width="93.45" height="0.8" fill="#000" fill-opacity="0.1"/><rect x="328.49" y="522.84" width="93.45" height="0.8" fill="#000" fill-opacity="0.1"/><rect x="328.49" y="525.15" width="93.45" height="0.8" fill="#000" fill-opacity="0.1"/><rect x="328.49" y="527.47" width="93.45" height="0.8" fill="#000" fill-opacity="0.1"/><rect x="328.49" y="529.79" width="93.45" height="0.8" fill="#000" fill-opacity="0.1"/><rect x="328.49" y="532.11" width="93.45" height="0.8" fill="#000" fill-opacity="0.1"/><rect x="328.49" y="534.43" width="93.45" height="0.8" fill="#000" fill-opacity="0.1"/><rect x="328.49" y="536.75" width="93.45" height="0.8" fill="#000" fill-opacity="0.1"/><rect x="328.49" y="539.07" width="93.45" height="0.8" fill="#000" fill-opacity="0.1"/><rect x="328.49" y="541.39" width="93.45" height="0.8" fill="#000" fill-opacity="0.1"/><rect x="328.49" y="543.71" width="93.45" height="0.8" fill="#000" fill-opacity="0.1"/><rect x="328.49" y="546.03" width="93.45" height="0.8" fill="#000" fill-opacity="0.1"/><rect x="328.49" y="548.35" width="93.45" height="0.8" fill="#000" fill-opacity="0.1"/><rect x="328.49" y="550.67" width="93.45" height="0.8" fill="#000" fill-opacity="0.1"/><rect x="328.49" y="552.99" width="93.45" height="0.8" fill="#000" fill-opacity="0.1"/><rect x="328.49" y="555.31" width="93.45" height="0.8" fill="#000" fill-opacity="0.1"/><rect x="328.49" y="557.63" width="93.45" height="0.8" fill="#000" fill-opacity="0.1"/><rect x="328.49" y="559.95" width="93.45" height="0.8" fill="#000" fill-opacity="0.1"/><rect x="328.49" y="562.27" width="93.45" height="0.8" fill="#000" fill-opacity="0.1"/><rect x="328.49" y="564.59" width="93.45" height="0.8" fill="#000" fill-opacity="0.1"/><rect x="328.49" y="566.91" width="93.45" height="0.8" fill="#000" fill-opacity="0.1"/><rect x="328.49" y="569.23" width="93.45" height="0.8" fill="#000" fill-opacity="0.1"/><rect x="328.49" y="571.55" width="93.45" height="0.8" fill="#000" fill-opacity="0.1"/><rect x="328.49" y="573.87" width="93.45" height="0.8" fill="#000" fill-opacity="0.1"/><rect x="328.49" y="576.19" width="93.45" height="0.8" fill="#000" fill-opacity="0.1"/><rect x="328.49" y="578.51" width="93.45" height="0.8" fill="#000" fill-opacity="0.1"/><rect x="328.49" y="580.83" width="93.45" height="0.8" fill="#000" fill-opacity="0.1"/><rect x="328.49" y="583.15" width="93.45" height="0.8" fill="#000" fill-opacity="0.1"/><rect x="328.49" y="585.46" width="93.45" height="0.8" fill="#000" fill-opacity="0.1"/><rect x="328.49" y="587.78" width="93.45" height="0.8" fill="#000" fill-opacity="0.1"/><rect x="328.49" y="590.10" width="93.45" height="0.8" fill="#000" fill-opacity="0.1"/><rect x="328.49" y="592.42" width="93.45" height="0.8" fill="#000" fill-opacity="0.1"/><rect x="328.49" y="594.74" width="93.45" height="0.8" fill="#000" fill-opacity="0.1"/><rect x="328.49" y="597.06" width="93.45" height="0.8" fill="#000" fill-opacity="0.1"/><rect x="328.49" y="599.38" width="93.45" height="0.8" fill="#000" fill-opacity="0.1"/><rect x="328.49" y="601.70" width="93.45" height="0.8" fill="#000" fill-opacity="0.1"/><rect x="328.49" y="604.02" width="93.45" height="0.8" fill="#000" fill-opacity="0.1"/><rect x="328.49" y="606.34" width="93.45" height="0.8" fill="#000" fill-opacity="0.1"/><rect x="328.49" y="608.66" width="93.45" height="0.8" fill="#000" fill-opacity="0.1"/><rect x="328.49" y="610.98" width="93.45" height="0.8" fill="#000" fill-opacity="0.1"/><rect x="328.49" y="613.30" width="93.45" height="0.8" fill="#000" fill-opacity="0.1"/><rect x="328.49" y="615.62" width="93.45" height="0.8" fill="#000" fill-opacity="0.1"/><rect x="328.49" y="617.94" width="93.45" height="0.8" fill="#000" fill-opacity="0.1"/><rect x="328.49" y="620.26" width="93.45" height="0.8" fill="#000" fill-opacity="0.1"/><rect x="328.49" y="622.58" width="93.45" height="0.8" fill="#000" fill-opacity="0.1"/><rect x="328.49" y="624.90" width="93.45" height="0.8" fill="#000" fill-opacity="0.1"/><rect x="328.49" y="627.22" width="93.45" height="0.8" fill="#000" fill-opacity="0.1"/><rect x="328.49" y="629.54" width="93.45" height="0.8" fill="#000" fill-opacity="0.1"/><rect x="328.49" y="631.86" width="93.45" height="0.8" fill="#000" fill-opacity="0.1"/><rect x="328.49" y="634.18" width="93.45" height="0.8" fill="#000" fill-opacity="0.1"/><rect x="328.49" y="636.50" width="93.45" height="0.8" fill="#000" fill-opacity="0.1"/><rect x="328.49" y="638.82" width="93.45" height="0.8" fill="#000" fill-opacity="0.1"/><rect x="328.49" y="641.14" width="93.45" height="0.8" fill="#000" fill-opacity="0.1"/><rect x="328.49" y="643.45" width="93.45" height="0.8" fill="#000" fill-opacity="0.1"/><rect x="328.49" y="645.77" width="93.45" height="0.8" fill="#000" fill-opacity="0.1"/><rect x="328.49" y="648.09" width="93.45" height="0.8" fill="#000" fill-opacity="0.1"/><rect x="328.49" y="650.41" width="93.45" height="0.8" fill="#000" fill-opacity="0.1"/><rect x="328.49" y="652.73" width="93.45" height="0.8" fill="#000" fill-opacity="0.1"/><rect x="328.49" y="655.05" width="93.45" height="0.8" fill="#000" fill-opacity="0.1"/><rect x="328.49" y="657.37" width="93.45" height="0.8" fill="#000" fill-opacity="0.1"/></g></g><rect x="367.29" y="535.51" width="10.20" height="47.11" fill="none" stroke="#111" stroke-width="0.8" stroke-opacity="0.9"/><rect x="404.18" y="593.01" width="12.34" height="49.45" fill="none" stroke="#f4f4f4" stroke-width="0.8" stroke-opacity="0.9"/></svg></body></html>
